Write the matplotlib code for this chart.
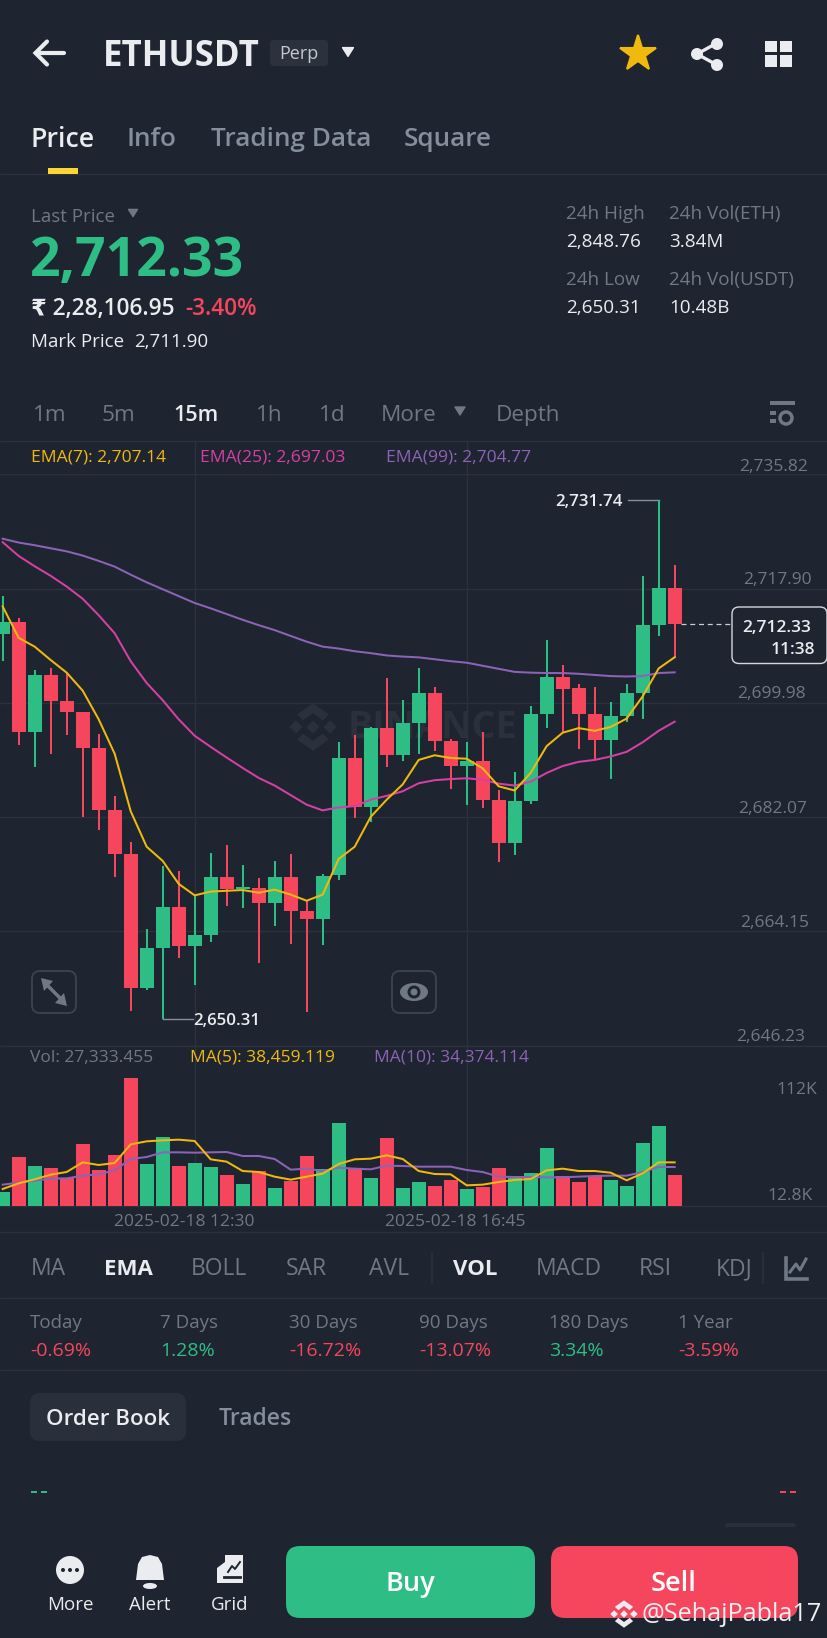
#!/usr/bin/env python3
import matplotlib
matplotlib.use("Agg")
import matplotlib.pyplot as plt
from matplotlib.patches import FancyBboxPatch, Circle, Polygon, Rectangle, Ellipse

plt.rcParams['font.family'] = ['Open Sans', 'DejaVu Sans']

# ---- candles (one row per 15m bar) ----
opens = [2710.73, 2712.65, 2695.48, 2704.36, 2700.28, 2698.48, 2692.90, 2683.11, 2676.27, 2655.26,
         2661.50, 2667.99, 2661.80, 2663.54, 2672.73, 2670.81, 2670.87, 2668.59, 2672.73, 2667.33,
         2666.01, 2672.91, 2691.28, 2683.59, 2696.02, 2691.82, 2696.80, 2701.54, 2693.92, 2690.02,
         2690.92, 2684.79, 2678.07, 2684.61, 2698.24, 2704.06, 2702.26, 2698.24, 2694.10, 2697.94,
         2701.54, 2712.17, 2717.93]
closes = [2712.65, 2695.48, 2704.36, 2700.28, 2698.48, 2692.90, 2683.11, 2676.27, 2655.26, 2661.50,
          2667.99, 2661.80, 2663.54, 2672.73, 2670.81, 2671.11, 2668.59, 2672.73, 2667.33, 2666.01,
          2672.85, 2691.28, 2683.59, 2696.02, 2691.82, 2696.80, 2701.54, 2693.92, 2690.02, 2690.92,
          2684.79, 2678.07, 2684.61, 2698.24, 2704.06, 2702.20, 2698.24, 2694.10, 2697.94, 2701.54,
          2712.17, 2717.93, 2712.33]
highs = [2716.73, 2713.25, 2705.14, 2705.38, 2704.72, 2698.48, 2695.12, 2685.39, 2678.19, 2664.44,
         2674.35, 2673.63, 2669.79, 2676.45, 2677.65, 2674.59, 2672.43, 2675.19, 2676.27, 2668.89,
         2673.09, 2693.80, 2694.88, 2696.20, 2703.88, 2700.40, 2705.38, 2702.50, 2694.28, 2693.80,
         2695.48, 2686.30, 2689.06, 2699.56, 2709.89, 2705.86, 2702.92, 2702.50, 2700.04, 2702.92,
         2719.91, 2731.74, 2721.65]
lows = [2706.53, 2693.32, 2689.90, 2691.88, 2695.00, 2682.03, 2679.99, 2672.61, 2651.72, 2654.90,
        2650.31, 2660.00, 2655.68, 2662.40, 2668.11, 2667.87, 2659.22, 2665.04, 2662.22, 2651.42,
        2661.98, 2672.25, 2681.85, 2681.31, 2689.90, 2690.80, 2691.88, 2692.36, 2686.48, 2683.89,
        2683.47, 2675.01, 2676.09, 2684.07, 2695.96, 2695.48, 2692.72, 2691.04, 2688.10, 2696.92,
        2697.52, 2710.43, 2707.01]

ema7 = [2715.11, 2710.18, 2708.80, 2706.70, 2704.72, 2701.90, 2697.40, 2692.00, 2682.99, 2677.41,
        2675.19, 2671.59, 2669.78, 2670.38, 2670.50, 2670.62, 2670.20, 2670.68, 2669.90, 2668.94,
        2669.90, 2675.49, 2677.41, 2682.09, 2684.79, 2687.19, 2691.03, 2691.76, 2691.33, 2691.22,
        2689.71, 2686.89, 2686.23, 2688.99, 2693.20, 2695.30, 2696.02, 2695.60, 2696.20, 2697.52,
        2701.00, 2705.38, 2707.14]
ema25 = [2725.19, 2723.03, 2721.41, 2719.91, 2718.23, 2716.31, 2713.73, 2710.90, 2706.52, 2703.10,
         2700.40, 2697.40, 2694.82, 2693.08, 2691.40, 2689.77, 2688.21, 2687.01, 2685.51, 2684.01,
         2683.11, 2683.59, 2683.77, 2684.79, 2685.39, 2686.11, 2687.37, 2687.85, 2688.03, 2688.15,
         2687.91, 2687.31, 2687.01, 2687.61, 2688.99, 2690.07, 2690.73, 2691.03, 2691.57, 2692.30,
         2693.80, 2695.60, 2697.03]
ema99 = [2725.73, 2725.13, 2724.71, 2724.23, 2723.75, 2723.09, 2722.25, 2721.35, 2720.09, 2718.89,
         2717.81, 2716.73, 2715.65, 2714.81, 2713.91, 2713.01, 2712.17, 2711.39, 2710.48, 2709.58,
         2708.80, 2708.50, 2708.08, 2707.78, 2707.42, 2707.24, 2707.12, 2706.82, 2706.52, 2706.28,
         2705.80, 2705.32, 2704.84, 2704.72, 2704.66, 2704.66, 2704.54, 2704.36, 2704.18, 2704.12,
         2704.18, 2704.66, 2704.77]

# volumes, in thousands
volumes = [12.64, 42.91, 35.27, 33.21, 24.39, 54.37, 31.74, 44.97, 113.15, 36.74,
           60.84, 34.97, 37.62, 34.09, 27.04, 19.40, 31.15, 15.87, 22.34, 43.79,
           32.62, 73.18, 32.33, 24.98, 60.25, 15.58, 21.45, 17.63, 22.92, 14.70,
           16.75, 33.50, 24.98, 29.39, 51.14, 26.16, 21.16, 26.74, 23.22, 17.34,
           55.84, 70.54, 27.33]
vol_ma5 = [14.99, 19.99, 23.51, 27.63, 29.98, 38.50, 36.15, 37.91, 54.37, 57.02,
           57.90, 58.49, 57.31, 41.15, 39.09, 30.86, 29.98, 25.86, 23.22, 25.86,
           28.51, 37.03, 41.15, 41.73, 44.67, 41.44, 30.86, 28.21, 27.92, 18.22,
           18.81, 21.16, 22.92, 23.81, 31.45, 32.92, 30.86, 30.86, 29.39, 22.63,
           28.80, 38.50, 38.46]
vol_ma10 = [18.81, 20.57, 22.34, 24.10, 24.39, 26.74, 27.92, 31.45, 41.44, 43.20,
            47.32, 47.32, 47.02, 47.32, 47.61, 44.09, 44.09, 41.44, 32.04, 32.92,
            30.86, 33.80, 32.92, 32.33, 35.56, 35.27, 34.68, 34.68, 34.68, 31.74,
            29.98, 25.86, 25.57, 25.57, 25.28, 25.28, 25.86, 26.45, 26.74, 26.74,
            29.98, 34.39, 34.37]

price_ticks = [2735.82, 2717.90, 2699.98, 2682.07, 2664.15, 2646.23]
period_labels = ["Today", "7 Days", "30 Days", "90 Days", "180 Days", "1 Year"]
period_values = ["-0.69%", "1.28%", "-16.72%", "-13.07%", "3.34%", "-3.59%"]

# ---- colours ----
BG = "#1e2530"
GREEN = "#2ebd85"
RED = "#f6465d"
YELLOW = "#f0b90b"
PINK = "#d63fa5"
PURPLE = "#8e62b8"
LINE = "#2b323d"
DIM = "#848e9c"
MUTED = "#6f7885"
WHITE = "#eaecef"

W, H = 828, 1638
fig = plt.figure(figsize=(W / 100, H / 100), dpi=100, facecolor=BG)

# whole-page axes in pixel coordinates, for the app chrome
ui = fig.add_axes([0, 0, 1, 1], zorder=1)
ui.set_xlim(0, W)
ui.set_ylim(H, 0)
ui.axis("off")

# second page-sized layer above the chart panes, for things drawn over candles
top = fig.add_axes([0, 0, 1, 1], zorder=6)
top.set_xlim(0, W)
top.set_ylim(H, 0)
top.axis("off")


def px_axes(y0, y1, z):
    ax = fig.add_axes([0, 1 - y1 / H, 1, (y1 - y0) / H], zorder=z)
    ax.patch.set_alpha(0)
    for s in ax.spines.values():
        s.set_visible(False)
    ax.tick_params(length=0, labelleft=False, labelbottom=False)
    # bar i sits at pixel 2.67 + 16 * i
    ax.set_xlim(-2.67 / 16, (W - 2.67) / 16)
    return ax


def label(x, y, s, size=13, color=WHITE, ha="left", weight="normal", z=5, layer=None):
    # the centre of the text box sits a bit high, nudge by font size
    (layer or ui).text(x, y + size * 0.13, s, fontsize=size, color=color, ha=ha, va="center",
                       fontweight=weight, zorder=z)


def rbox(x0, y0, x1, y1, r, fc, ec="none", lw=0, z=2, layer=None):
    (layer or ui).add_patch(FancyBboxPatch((x0, y0), x1 - x0, y1 - y0,
                                           boxstyle=f"round,pad=0,rounding_size={r}",
                                           fc=fc, ec=ec, lw=lw, zorder=z))


def hline(y, x0=0, x1=W, color=LINE, lw=1.0):
    ui.plot([x0, x1], [y, y], color=color, lw=lw, zorder=1, solid_capstyle="butt")


def tri(x, y, s, color):
    ui.add_patch(Polygon([(x - s, y - s * 0.8), (x + s, y - s * 0.8), (x, y + s * 0.8)], fc=color, ec=color,
                         lw=1, joinstyle="round", zorder=3))


def binance_logo(layer, cx, cy, s, color, z=1):
    for dx in (-2.6, 0, 2.6):
        layer.add_patch(Polygon([(cx + dx * s, cy - s), (cx + dx * s + s, cy), (cx + dx * s, cy + s),
                                 (cx + dx * s - s, cy)], fc=color, ec="none", zorder=z))
    for sign in (-1, 1):
        pts = [(cx, cy + sign * 3.6 * s), (cx + 2.4 * s, cy + sign * 1.9 * s), (cx + 1.5 * s, cy + sign * 1.0 * s),
               (cx, cy + sign * 2.1 * s), (cx - 1.5 * s, cy + sign * 1.0 * s), (cx - 2.4 * s, cy + sign * 1.9 * s)]
        layer.add_patch(Polygon(pts, fc=color, ec="none", zorder=z))


# ---- header ----
ui.plot([36, 64], [53, 53], color=WHITE, lw=3.0, solid_capstyle="round")
ui.plot([47, 35.5, 47], [41.5, 53, 64.5], color=WHITE, lw=3.0, solid_capstyle="round", solid_joinstyle="miter")
label(103, 54, "ETHUSDT", 25, WHITE, weight="bold")
rbox(270, 40, 328, 66, 4, "#2b323d")
label(299, 52, "Perp", 13, "#c4c9d0", ha="center")
tri(348, 52, 5.5, WHITE)
ui.plot([638], [54], marker="*", ms=27, color=YELLOW, mec=YELLOW, mew=1.5, mfc=YELLOW)
ui.plot([717, 697, 717], [43, 54, 65], color=WHITE, lw=2.4)
for cx, cy in [(717, 44), (697, 54), (717, 65)]:
    ui.add_patch(Circle((cx, cy), 6, fc=WHITE, ec="none", zorder=3))
for x0, y0, x1, y1 in [(765, 41, 777, 52), (780, 41, 792, 52), (765, 55, 777, 67), (780, 55, 792, 67)]:
    ui.add_patch(Rectangle((x0, y0), x1 - x0, y1 - y0, fc=WHITE, ec="none"))

# ---- tabs ----
label(31, 137, "Price", 19.3, WHITE, weight="semibold")
label(127, 137, "Info", 18.8, DIM, weight="semibold")
label(211, 137, "Trading Data", 18.8, DIM, weight="semibold")
label(404, 137, "Square", 18.8, DIM, weight="semibold")
hline(173.5)
ui.add_patch(Rectangle((48, 168), 30, 6, fc="#fcd535", ec="none", zorder=3))

# ---- price summary ----
label(31, 215, "Last Price", 13.5, MUTED)
tri(133, 213, 4.5, MUTED)
label(30, 257, "2,712.33", 38.5, GREEN, weight="bold")
label(31, 307, "₹ 2,28,106.95", 16.3, WHITE, weight="semibold")
label(185, 307, "-3.40%", 16.3, RED, weight="semibold")
label(31, 340, "Mark Price", 13.5, WHITE)
label(134, 340, "2,711.90", 13.5, WHITE)
for x, y, s, c in [(566, 212, "24h High", MUTED), (566, 240, "2,848.76", WHITE),
                   (566, 278, "24h Low", MUTED), (566, 306, "2,650.31", WHITE),
                   (669, 212, "24h Vol(ETH)", MUTED), (669, 240, "3.84M", WHITE),
                   (669, 278, "24h Vol(USDT)", MUTED), (669, 306, "10.48B", WHITE)]:
    label(x, y, s, 13.6, c)

# ---- timeframes ----
for x, s in [(33, "1m"), (102, "5m"), (256, "1h"), (319, "1d"), (381, "More"), (496, "Depth")]:
    label(x, 413, s, 16.2, MUTED)
label(173, 413, "15m", 15.5, WHITE, weight="semibold")
tri(460, 411, 5, MUTED)
ui.add_patch(Rectangle((770, 401), 25, 3.5, fc=MUTED, ec="none"))
for y in (411, 419):
    ui.add_patch(Rectangle((770, y), 6, 4, fc=MUTED, ec="none"))
ui.add_patch(Circle((786, 418), 6, fc=BG, ec=MUTED, lw=2.5))

# ---- price pane ----
hline(441)
for x in (194.7, 466.7):
    ui.plot([x, x], [441, 1206], color=LINE, lw=1.0, zorder=1)

ax = px_axes(474.4, 1045.5, 3)
ax.set_ylim(price_ticks[-1], price_ticks[0])
ax.set_yticks(price_ticks)
ax.grid(axis="y", color=LINE, lw=1.0)
ax.set_axisbelow(True)

xs = list(range(len(opens)))
cols = [GREEN if c >= o else RED for o, c in zip(opens, closes)]
ax.vlines(xs, lows, highs, colors=cols, lw=1.45, zorder=3)
ax.bar(xs, [c - o for o, c in zip(opens, closes)], bottom=opens, width=0.875, color=cols, zorder=3)
ax.plot(xs, ema99, color=PURPLE, lw=1.45, zorder=4)
ax.plot(xs, ema25, color=PINK, lw=1.45, zorder=4)
ax.plot(xs, ema7, color=YELLOW, lw=1.45, zorder=4)
ax.plot([42.4, 45.5], [closes[-1], closes[-1]], color="#c9ced6", lw=0.9, ls=(0, (4, 3)), zorder=2)

# high / low callouts on the chart
hi = highs.index(max(highs))
lo = lows.index(min(lows))
ax.plot([hi - 1.9, hi], [highs[hi], highs[hi]], color=DIM, lw=1.0, zorder=2)
ax.plot([lo, lo + 1.9], [lows[lo], lows[lo]], color=DIM, lw=1.0, zorder=2)
label(623, 500, f"{highs[hi]:,.2f}", 12.2, WHITE, ha="right", weight="semibold")
label(193, 1019, f"{lows[lo]:,.2f}", 12.2, WHITE, weight="semibold")

# watermark
binance_logo(ui, 313, 727, 6.6, "#2a313c")
label(348, 724, "BINANCE", 27, "#2a313c", weight="bold", z=1)

label(31, 456, "EMA(7): 2,707.14", 12.6, YELLOW)
label(200, 456, "EMA(25): 2,697.03", 12.6, PINK)
label(386, 456, "EMA(99): 2,704.77", 12.6, PURPLE)

for right, y, t in zip([808, 812, 806, 807, 809, 805], [465, 578.5, 692.5, 807, 921, 1035], price_ticks):
    label(right, y, f"{t:,.2f}", 12.5, MUTED, ha="right")

rbox(732, 607, 827, 663.5, 7, BG, ec="#d5d8dc", lw=1.0, z=6)
label(811, 626, "2,712.33", 12.5, WHITE, ha="right", weight="semibold", z=7)
label(815, 648, "11:38", 12.5, WHITE, ha="right", weight="semibold", z=7)

# expand and eye buttons
rbox(32, 971, 76, 1013, 8, "none", ec="#3a424e", lw=1.4, z=6)
rbox(392, 971, 436, 1013, 8, "none", ec="#3a424e", lw=1.4, z=6)
ui.add_patch(Polygon([(41, 978), (53, 981), (44, 991)], fc=MUTED, zorder=6))
ui.add_patch(Polygon([(67, 1006), (55, 1003), (64, 993)], fc=MUTED, zorder=6))
ui.plot([46, 62], [984, 1000], color=MUTED, lw=2.5, zorder=6)
ui.add_patch(Ellipse((414, 992), 28, 18, fc=MUTED, ec="none", zorder=6))
ui.add_patch(Circle((414, 992), 6.5, fc=BG, ec="none", zorder=7))
ui.add_patch(Circle((414, 992), 3.5, fc=MUTED, ec="none", zorder=8))

# ---- volume pane ----
hline(1046)
hline(1206)
hline(1232)
vax = px_axes(1060, 1206, 3)
vax.set_ylim(0, 146 * 0.8817)
vax.bar(xs, volumes, width=0.875, color=cols, zorder=3)
vax.plot(xs, vol_ma10, color=PURPLE, lw=1.45, zorder=4)
vax.plot(xs, vol_ma5, color=YELLOW, lw=1.45, zorder=4)
label(30, 1056, "Vol: 27,333.455", 12.5, MUTED)
label(190, 1056, "MA(5): 38,459.119", 12.5, YELLOW)
label(374, 1056, "MA(10): 34,374.114", 12.5, PURPLE)
label(817, 1088, "112K", 12.5, MUTED, ha="right")
label(813, 1194, "12.8K", 12.5, MUTED, ha="right")
label(184, 1220, "2025-02-18 12:30", 12.5, MUTED, ha="center")
label(455, 1220, "2025-02-18 16:45", 12.5, MUTED, ha="center")

# ---- indicator tabs ----
for x, s in [(31, "MA"), (191, "BOLL"), (286, "SAR"), (369, "AVL"), (536, "MACD"), (639, "RSI"), (716, "KDJ")]:
    label(x, 1267, s, 16.5, MUTED)
label(104, 1267, "EMA", 16, WHITE, weight="bold")
label(453, 1267, "VOL", 16, WHITE, weight="bold")
ui.plot([432, 432], [1253, 1283], color=LINE, lw=1.2)
ui.plot([763, 763], [1253, 1283], color=LINE, lw=1.2)
ui.plot([786, 786, 807], [1258, 1279, 1279], color=MUTED, lw=2.6, solid_joinstyle="miter")
ui.plot([790, 796, 800, 806], [1272, 1264, 1270, 1259], color=MUTED, lw=2.2)
hline(1298)

# ---- period change ----
for x, name, val in zip([30, 160, 289, 419, 549, 678], period_labels, period_values):
    label(x, 1321, name, 13.5, MUTED)
    label(x, 1349, val, 14, RED if val.startswith("-") else GREEN)
hline(1370)

# ---- order book ----
rbox(30, 1393, 186, 1441, 10, "#29303b")
label(46, 1417, "Order Book", 16, WHITE, weight="semibold")
label(219, 1417, "Trades", 16.5, DIM, weight="semibold")
ui.add_patch(Rectangle((31, 1491), 6, 2, fc=GREEN, ec="none"))
ui.add_patch(Rectangle((41, 1491), 6, 2, fc=GREEN, ec="none"))
ui.add_patch(Rectangle((780, 1491), 6, 2, fc=RED, ec="none"))
ui.add_patch(Rectangle((790, 1491), 6, 2, fc=RED, ec="none"))
rbox(725, 1523, 796, 1535, 4, "#29303b")
ui.add_patch(Rectangle((700, 1526.5), 128, 12, fc=BG, ec="none", zorder=3))

# ---- bottom bar ----
ui.add_patch(Circle((70, 1570), 14, fc=WHITE, ec="none"))
for dx in (-7, 0, 7):
    ui.add_patch(Circle((70 + dx, 1570), 2, fc=BG, ec="none", zorder=3))
ui.add_patch(Polygon([(136, 1580), (138, 1564), (142, 1557), (150, 1555), (158, 1557), (162, 1564), (164, 1580)],
                     fc=WHITE, ec="none"))
ui.add_patch(Ellipse((150, 1586), 14, 6, fc=WHITE, ec="none"))
ui.add_patch(Polygon([(217, 1568), (225, 1562), (225, 1555), (243, 1555), (243, 1583), (217, 1583)], fc=WHITE, ec="none"))
ui.plot([228, 232, 235, 240], [1572, 1566, 1569, 1562], color=BG, lw=1.4, zorder=3)
ui.plot([224, 240], [1577, 1577], color=BG, lw=2.0, zorder=3)
for x, s in [(70, "More"), (150, "Alert"), (230, "Grid")]:
    label(x, 1603, s, 13.5, WHITE, ha="center")

rbox(286, 1546, 535, 1618, 14, GREEN)
rbox(551, 1546, 798, 1618, 14, RED)
label(410, 1581, "Buy", 19.5, "white", ha="center", weight="semibold")
label(674, 1581, "Sell", 19.5, "white", ha="center", weight="semibold")

# reposted-from watermark over the sell button
binance_logo(top, 624, 1614, 3.8, "#eaecef", z=8)
label(642, 1612, "@SehajPabla17", 18.2, "#eef0f2", z=8, layer=top)

fig.savefig("out.png", dpi=100, facecolor=BG)
